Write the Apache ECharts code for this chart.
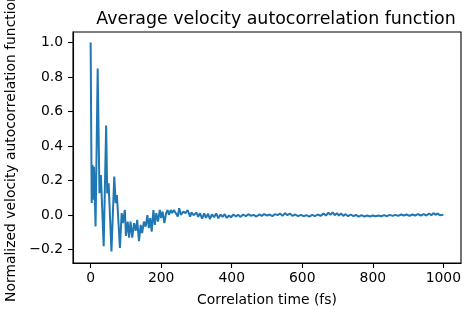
<!DOCTYPE html>
<html>
<head>
<meta charset="utf-8">
<script src="https://cdn.jsdelivr.net/npm/echarts@6/dist/echarts.min.js"></script>
<style>
  html, body { margin: 0; padding: 0; background: #fff; }
  #chart { width: 470px; height: 316px; }
</style>
</head>
<body>
<div id="chart"></div>
<script>
// correlation time in fs
const timeFs = [
  0, 3, 5.5, 7.5, 9.5, 14, 20, 25, 29, 37, 44, 47, 51, 59, 67, 71, 74.5, 83, 88, 91.5,
  97, 100, 105, 109, 113, 118, 123, 128, 132, 137, 142, 146, 151, 156, 161, 165, 169, 173, 178, 182,
  186, 191, 196, 200, 204, 209, 214, 218, 222, 227, 231, 236, 241, 247, 251, 256, 263, 269, 275, 282,
  286, 292, 300, 305, 310, 316, 322, 327, 333, 338, 344, 350, 356, 362, 368, 374, 380, 386, 392, 398,
  405, 412, 418, 425, 432, 440, 447, 455, 462, 470, 478, 485, 492, 500, 508, 515, 522, 530, 537, 544,
  551, 558, 565, 572, 580, 588, 596, 604, 612, 620, 628, 636, 644, 652, 660, 667, 674, 680, 686, 692,
  698, 704, 710, 716, 723, 730, 737, 745, 752, 760, 768, 776, 784, 792, 800, 808, 816, 824, 832, 840,
  848, 856, 864, 872, 880, 888, 896, 904, 912, 920, 928, 936, 944, 952, 960, 966, 972, 978, 984, 990,
  995, 1000
]
// normalized velocity autocorrelation
const vacf = [
  1.0, 0.07, 0.29, 0.09, 0.28, -0.065, 0.85, 0.127, 0.233, -0.18, 0.52, 0.127, 0.185, -0.21, 0.224, 0.07, 0.117, -0.19, 0.012, -0.046,
  0.03, -0.12, -0.037, -0.13, -0.037, -0.13, -0.046, -0.09, -0.027, -0.15, -0.056, -0.104, -0.037, -0.066, 0.0, -0.075, -0.017, -0.095, 0.03, -0.056,
  0.012, -0.037, 0.03, -0.017, 0.021, -0.046, 0.012, 0.03, 0.002, 0.03, 0.012, 0.03, 0.021, -0.008, 0.04, 0.002, 0.021, 0.012, 0.03, -0.008,
  0.016, 0.0, 0.015, -0.01, 0.012, -0.02, 0.01, -0.015, 0.008, -0.022, 0.005, -0.012, 0.01, -0.018, 0.004, -0.01, 0.006, -0.016, -0.002, -0.012,
  0.004, -0.008, 0.002, -0.01, 0.004, -0.006, 0.006, -0.004, 0.002, -0.008, 0.004, -0.004, 0.006, -0.002, 0.004, -0.006, 0.006, 0.0, 0.01, -0.004,
  0.012, 0.0, 0.01, -0.004, 0.004, -0.006, 0.002, -0.006, 0.0, -0.008, 0.002, -0.006, 0.004, -0.004, 0.01, -0.002, 0.014, 0.002, 0.016, 0.0,
  0.012, -0.002, 0.01, -0.004, 0.006, -0.006, 0.004, -0.006, 0.002, -0.008, 0.0, -0.008, -0.002, -0.008, -0.002, -0.006, -0.002, -0.006, 0.0, -0.006,
  0.002, -0.004, 0.002, -0.004, 0.004, -0.002, 0.004, -0.004, 0.004, -0.002, 0.006, -0.002, 0.006, -0.002, 0.01, 0.0, 0.012, 0.002, 0.01, 0.0,
  0.006, 0.002
]
const xTicks = [0, 200, 400, 600, 800, 1000]
const yTicks = [-0.2, 0, 0.2, 0.4, 0.6, 0.8, 1.0]

const chart = echarts.init(document.getElementById('chart'))
const font = 'DejaVu Sans'

const option = {
  animation: false,
  title: {
    text: 'Average velocity autocorrelation function',
    left: 271,
    top: 6,
    textAlign: 'center',
    textStyle: { fontFamily: font, fontSize: 17.4, fontWeight: 'normal', color: '#000' }
  },
  grid: {
    left: 73, right: 9, top: 32, bottom: 53,
    show: true, borderColor: '#000', borderWidth: 1.1,
    containLabel: false,
    outerBoundsMode: 'none'
  },
  xAxis: {
    type: 'value',
    min: -50,
    max: 1050,
    name: 'Correlation time (fs)',
    nameLocation: 'middle',
    nameGap: 30,
    nameTextStyle: { fontFamily: font, fontSize: 13.9, color: '#000' },
    axisLine: { show: true, onZero: false, lineStyle: { color: '#000', width: 1.1 } },
    axisTick: { show: true, length: 5, customValues: xTicks, lineStyle: { color: '#000', width: 1.1 } },
    axisLabel: {
      customValues: xTicks, margin: 8,
      fontFamily: font, fontSize: 13.9, color: '#000',
      formatter: v => String(v)
    },
    splitLine: { show: false }
  },
  yAxis: {
    type: 'value',
    min: -0.277,
    max: 1.061,
    name: 'Normalized velocity autocorrelation function',
    nameLocation: 'middle',
    nameRotate: 90,
    nameGap: 39,
    nameTextStyle: { fontFamily: font, fontSize: 13.9, color: '#000' },
    axisLine: { show: true, onZero: false, lineStyle: { color: '#000', width: 1.1 } },
    axisTick: { show: true, length: 5, customValues: yTicks, lineStyle: { color: '#000', width: 1.1 } },
    axisLabel: {
      customValues: yTicks, margin: 10,
      fontFamily: font, fontSize: 13.9, color: '#000',
      formatter: v => v.toFixed(1).replace('-', '\u2212')
    },
    splitLine: { show: false }
  },
  series: [
    {
      type: 'line',
      data: timeFs.map((t, i) => [t, vacf[i]]),
      showSymbol: false,
      lineStyle: { color: '#1f77b4', width: 2 },
      itemStyle: { color: '#1f77b4' }
    }
  ]
}

chart.setOption(option)
</script>
</body>
</html>
